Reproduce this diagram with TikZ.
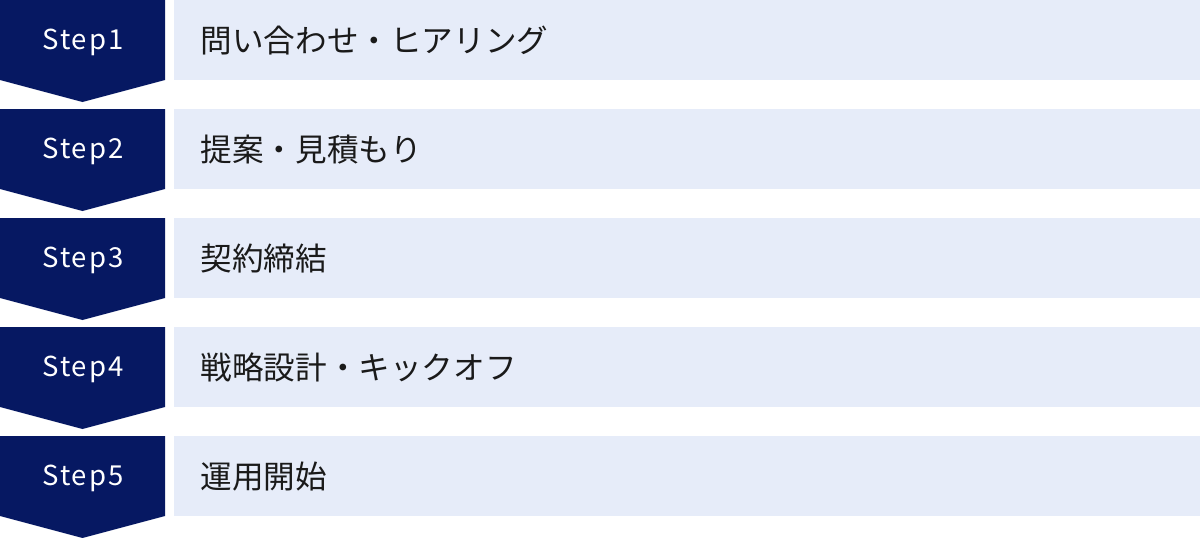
\documentclass[tikz,border=0pt]{standalone}
\usepackage{fontspec}
\setmainfont{Noto Sans CJK JP}
\newfontfamily\steplabelfont[LetterSpace=7]{Noto Sans CJK JP}
\definecolor{navy}{HTML}{061862}
\definecolor{paleblue}{HTML}{E6ECF9}
\definecolor{inktext}{HTML}{1A1A1A}
\tikzset{
  chev/.style={fill=navy, draw=none},
  bar/.style={fill=paleblue, draw=none},
  steplabel/.style={text=white, font=\steplabelfont\fontsize{27.5}{32}\selectfont, inner sep=0pt},
  barlabel/.style={text=inktext, font=\fontsize{31.6}{36}\selectfont, inner sep=0pt, anchor=west},
}
\begin{document}
\begin{tikzpicture}[x=1pt,y=-1pt]
\useasboundingbox (0,0) rectangle (1200,538);
\foreach \i/\t in {1/問い合わせ・ヒアリング,2/提案・見積もり,3/契約締結,4/戦略設計・キックオフ,5/運用開始}{
  \pgfmathsetmacro{\yy}{(\i-1)*109}
  \fill[chev] (0,\yy) -- (165,\yy) -- (165,\yy+80) -- (82.5,\yy+102) -- (0,\yy+80) -- cycle;
  \node[steplabel] (s\i) at (83,\yy+42.5) {Step\i};
  \fill[bar] (174,\yy) rectangle (1200,\yy+80);
  \node[barlabel] (b\i) at (200.5,\yy+40.5) {\t};
}
\end{tikzpicture}
\end{document}
